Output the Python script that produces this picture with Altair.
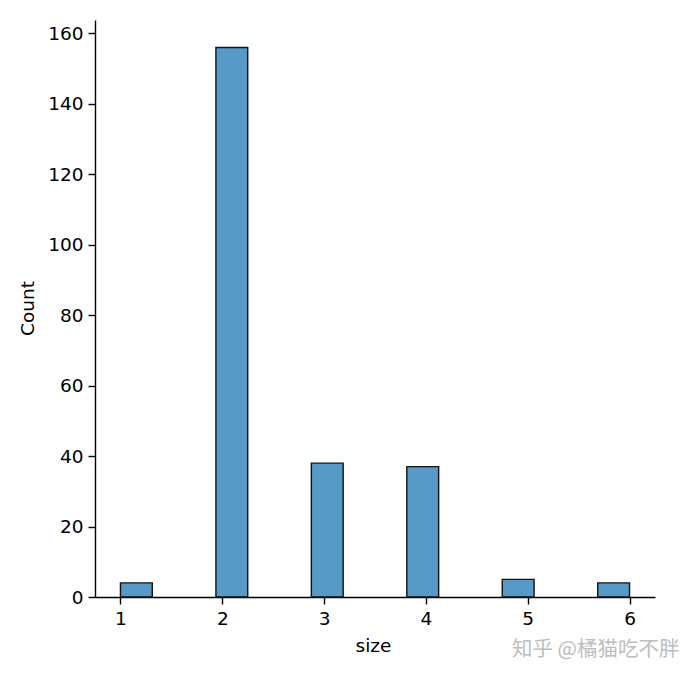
import altair as alt
import pandas as pd

# Histogram of party size (16 bins spanning 1..6)
bin_left = [1.0, 1.9375, 2.875, 3.8125, 4.75, 5.6875]
bin_width = 0.3125
counts = [4, 156, 38, 37, 5, 4]
x_ticks = [1, 2, 3, 4, 5, 6]
y_ticks = [0, 20, 40, 60, 80, 100, 120, 140, 160]

df = pd.DataFrame({
    "left": bin_left,
    "right": [b + bin_width for b in bin_left],
    "count": counts,
})

FONT = "DejaVu Sans"

bars = alt.Chart(df).mark_rect(
    fill="#1f77b4", fillOpacity=0.75, stroke="#111111", strokeWidth=1.4
).encode(
    x=alt.X("left:Q",
            scale=alt.Scale(domain=[0.75, 6.25], nice=False, zero=False),
            axis=alt.Axis(values=x_ticks, title="size", format="d",
                          titleX=278, titleY=48, titleBaseline="middle",
                          titleAlign="center")),
    x2="right:Q",
    y=alt.Y("count:Q",
            scale=alt.Scale(domain=[0, 163.8], nice=False),
            axis=alt.Axis(values=y_ticks, title="Count", format="d",
                          titleX=-68, titleY=288, titleAngle=-90,
                          titleBaseline="middle", titleAlign="center")),
    y2=alt.datum(0),
)

watermark = alt.Chart(pd.DataFrame({"t": ["知乎 @橘猫吃不胖"]})).mark_text(
    align="left", baseline="middle", font="Noto Sans CJK SC",
    fontSize=20.5, color="#bdbdbd"
).encode(
    x=alt.value(417), y=alt.value(630), text="t:N"
)

chart = alt.layer(bars, watermark).properties(
    width=560, height=577,
    autosize=alt.AutoSizeParams(type="none"),
    padding={"left": 87, "top": 12, "right": 36, "bottom": 70},
).configure_view(stroke=None).configure_axis(
    grid=False,
    domainColor="#000000", domainWidth=1.4,
    tickColor="#000000", tickWidth=1.4, tickSize=7,
    labelFont=FONT, labelFontSize=18.5, labelColor="#000000", labelPadding=5,
    titleFont=FONT, titleFontSize=18.5, titleColor="#000000", titleFontWeight="normal",
)

chart.save("out.html", embed_options={"renderer": "svg", "actions": False})
